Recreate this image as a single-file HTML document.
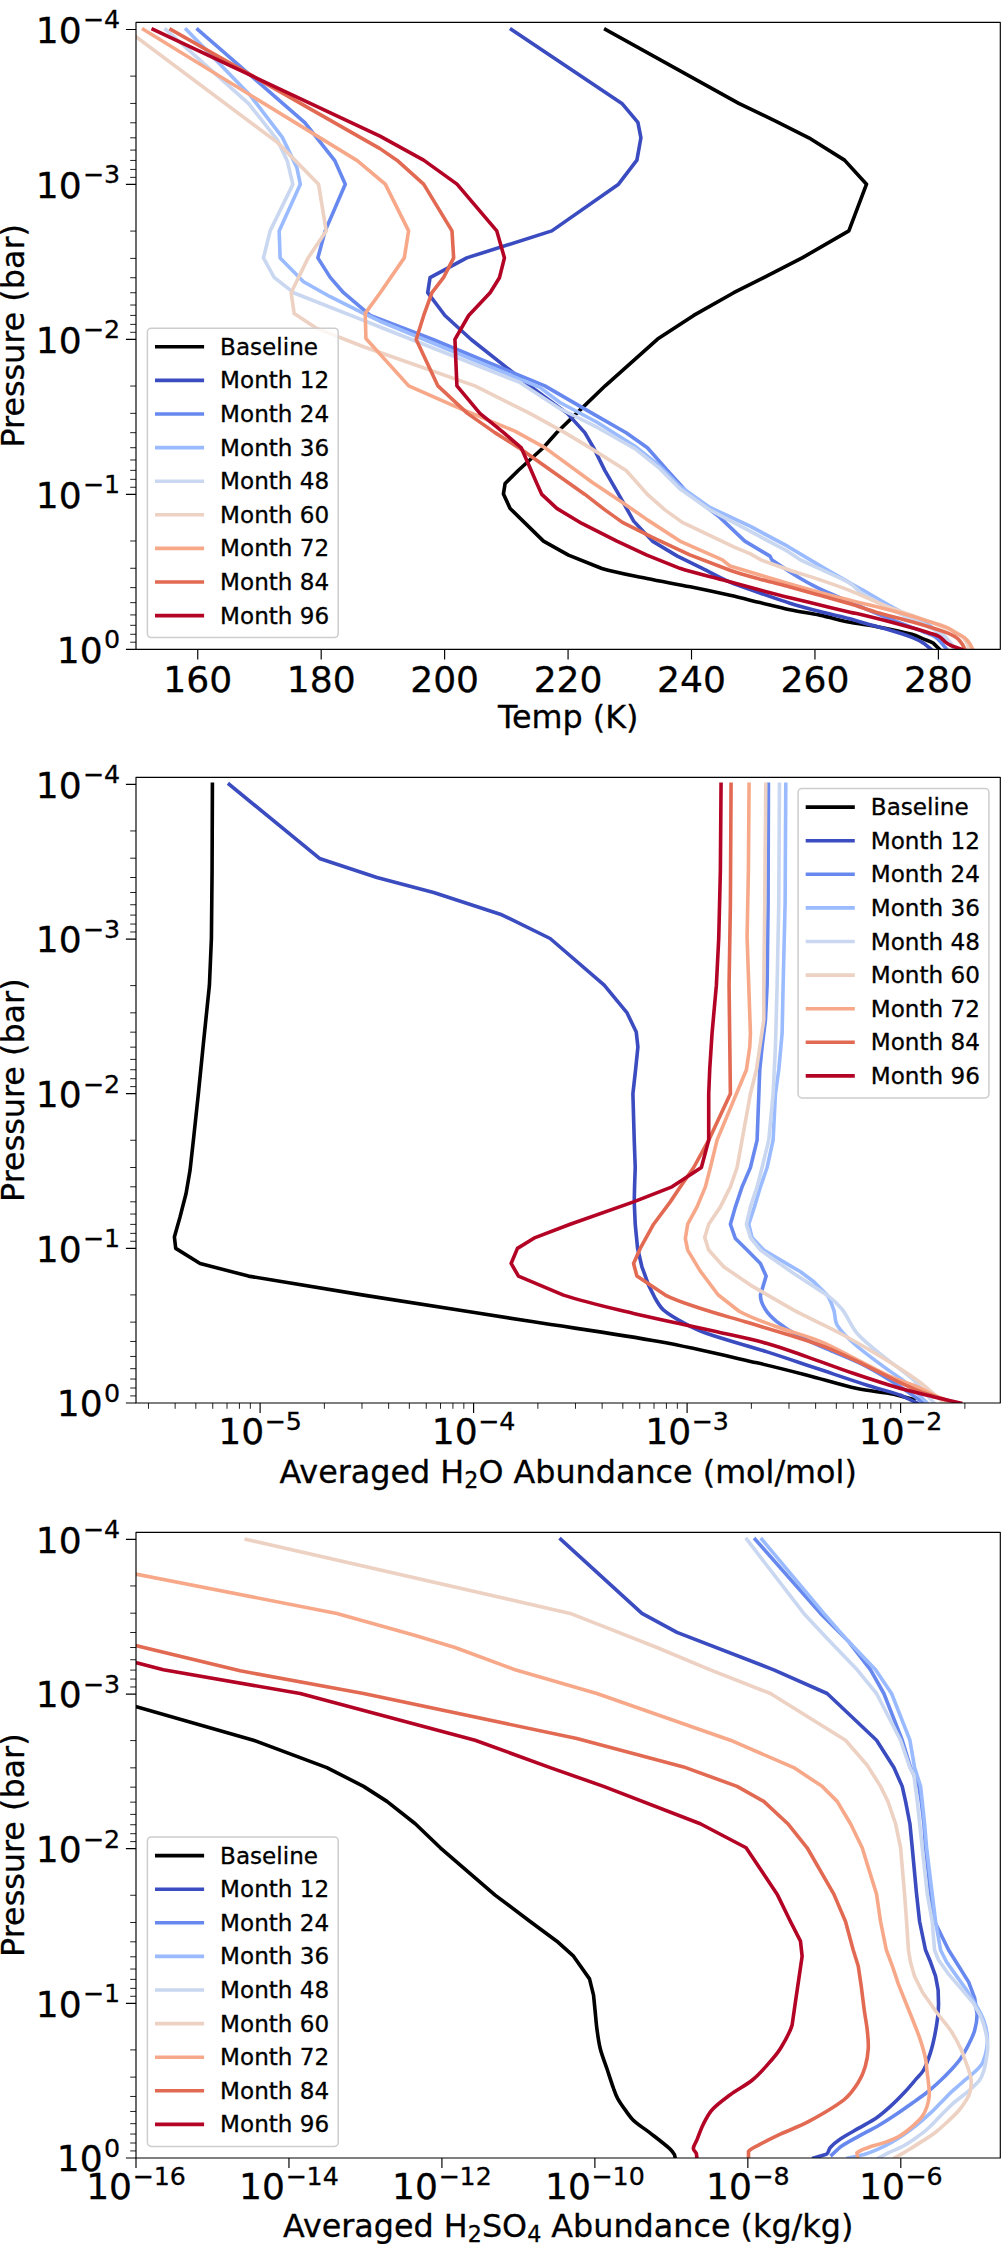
<!DOCTYPE html>
<html><head><meta charset="utf-8"><title>Profiles</title>
<style>html,body{margin:0;padding:0;background:#fff}svg{display:block}text{stroke:#000;stroke-width:.3px}</style></head>
<body>
<svg width="1001" height="2244" viewBox="0 0 1001 2244" font-family="'DejaVu Sans', 'Liberation Sans', sans-serif" fill="#000" stroke-linejoin="round">
<rect width="1001" height="2244" fill="#fff"/>
<clipPath id="c0"><rect x="136" y="22.41" width="864.3" height="626.89"/></clipPath>
<g clip-path="url(#c0)" fill="none" stroke-width="3.61" stroke-linejoin="round" stroke-linecap="square">
<path d="M605.69 29.5L738.74 103.42L777.11 121.77L808.81 137.78L844.51 160.14L866.53 184.16L848.85 230.88L802.13 257.9L763.76 277.69L733.73 292.71L693.69 315.4L657.59 339.09L605.2 385.8L576.84 413.16L556.82 432.52L543.48 447.53L518.45 470.22L505.1 483.57L503.44 493.91L510.11 508.42L543.48 541.12L568.5 555.13L601.87 568.48C616.61 572.87 631.85 575.37 646.91 578.49C661.33 581.48 675.86 583.9 690.29 586.83C703.56 589.53 716.79 592.38 730 595.36C740.02 597.63 749.98 600.16 759.97 602.56C769.96 604.96 779.89 607.64 789.94 609.75C799.87 611.84 809.98 613.06 819.91 615.14C830 617.26 839.9 620.28 850 622.34C858.59 624.09 867.36 624.91 875.96 626.58C888.01 628.92 900.06 631.26 911.93 634.37C916.09 635.46 919.94 637.51 923.92 639.17C927.14 640.51 930.58 641.46 933.51 643.36L939.5 649.3" stroke="#000000"/>
<path d="M511.45 29.5L621.89 103.42L637.9 122.44L640.91 137.78L636.9 160.14L618.55 184.16L551.82 230.88L466.73 257.9L430.03 277.69L427.69 292.71L444.94 315.48L471.16 339.46L529.85 385.91L567.31 413.39L584.8 432.62L593.54 447.6L604.78 470.33L618.69 494.41L633.68 521.13L652.41 541.11L677.38 556.09L702.36 568.33C711.59 572.91 720.52 578.13 730 582.18C739.76 586.35 749.95 589.46 759.97 592.97C769.93 596.45 779.86 600.03 789.94 603.16C799.85 606.23 809.87 608.94 819.91 611.55C829.89 614.14 840.02 616.15 850 618.74C854.71 619.96 859.29 621.65 863.98 622.98C871.95 625.26 880.01 627.19 887.95 629.58C896 631.99 904.08 634.36 911.93 637.37C916.1 638.97 920.12 641 923.92 643.36L931.11 649.3" stroke="#3b4cc0"/>
<path d="M197.83 29.5L304.83 122.65L334.8 160.61L345.28 184.34L325.19 230.88L317.85 257.9L330.2 277.36L343.55 292.71L370.24 315.4L432.95 339.46L544.84 385.91L592.29 413.39L626.18 432.72L647.41 447.7L667.39 470.43L687.37 492.41L719.84 517.38L744.82 541.11L769.98 556.17L771.96 560L789.94 571.99C795.85 575.73 801.82 579.36 807.92 582.78C811.82 584.96 815.87 586.85 819.91 588.77C823.87 590.65 827.88 592.43 831.9 594.17C850.56 602.23 869.15 610.46 887.95 618.19C899.83 623.07 912 627.2 923.92 631.97C927.98 633.6 932.2 635.02 935.9 637.37C938.29 638.88 940 641.27 941.9 643.36L946.69 649.3" stroke="#6788ee"/>
<path d="M186.3 29.5L249.88 94.93L282.35 137.38L296.83 167.35L300.33 184.34L279.15 230.88L280.15 257.9L303.51 281.7L330.2 296.71L363.57 313.4L380 321.23L539.84 387.41L560 402.5L597.46 422.48L634.93 446.2L659.9 466.18L679.88 486.16L709.85 507.39L750 526.2L787.46 546.18L824.93 568.66C837.32 575.89 849.9 582.81 862.39 589.89C874.88 596.97 887.12 604.5 899.85 611.12C907.95 615.33 916.87 617.88 924.83 622.36C929.96 625.25 934.32 629.36 938.88 633.1C941.83 635.53 944.56 638.22 947.33 640.85C949.26 642.68 951.27 644.44 952.97 646.48L954.38 649.3" stroke="#9abbff"/>
<path d="M165.86 29.5L248.63 103.67L277.35 139.88L287.34 161.11L292.84 184.34L270.14 230.88L263.47 257.9L274.14 277.36L293.5 292.71L363.57 320.4L380 326.97L519.86 382.42L560 408.74L597.46 427.47L634.93 448.7L659.9 468.68L679.88 488.66L709.85 509.89L750 531.2L787.46 551.18L800.73 560L819.91 568.99C829.95 573.76 840.38 577.8 850 583.38C854.64 586.07 857.8 590.86 862.39 593.64C874.49 600.98 887.19 607.29 899.85 613.62C908.02 617.7 916.66 620.77 924.83 624.86C931.66 628.27 938.79 631.38 944.81 636.09L956.04 649.3" stroke="#c9d7f0"/>
<path d="M126.2 29.5L277.35 142.38L318.56 184.34L326.2 230.88L307.84 258.34L291.16 292.71L294.16 313.4L316.85 328.41L363.57 346.76L380 352.45L474.91 385.91L529.85 413.39L564.82 432.62L589.79 447.6L626.18 470.43L647.41 494.41L664.9 509.89L682.38 522.38L734.83 547.35L750 553.68L761.17 560L789.94 570.19C799.88 573.54 809.98 576.41 819.91 579.78C830 583.2 840.1 586.62 850 590.57C862.87 595.71 875.29 601.93 888.17 607.04C897.42 610.71 906.99 613.52 916.34 616.9C923.89 619.63 931.43 622.37 938.88 625.35C945.52 628.01 952.41 630.22 958.6 633.81C961.47 635.47 963.61 638.23 965.64 640.85C966.93 642.51 967.74 644.51 968.46 646.48L968.74 649.3" stroke="#edd1c2"/>
<path d="M143.51 29.5L357.27 160.61L385.25 184.16L408.61 230.88L404.27 257.9L380.25 292.71L365.23 313.4L365.9 338.42L408.72 385.91L457.42 407.39L514.87 431.12L544.84 447.6L592.47 482.42L622.44 502.4L647.41 519.88L679.88 541.11L722.34 559.84L730 565.99L759.97 574.99C769.96 577.98 779.92 581.07 789.94 583.98C799.9 586.87 809.89 589.67 819.91 592.37C829.91 595.06 839.96 597.6 850 600.16C866.64 604.41 883.37 608.31 899.94 612.79C910.01 615.52 919.95 618.67 929.91 621.78C935.94 623.67 942.1 625.24 947.89 627.78C950.8 629.05 953.04 631.5 955.78 633.1C958.5 634.69 961.72 635.44 964.24 637.33C966.5 639.02 968.24 641.36 969.87 643.67L972.69 649.3" stroke="#f7a889"/>
<path d="M171.02 29.5L380 148.62L396.93 160.14L423.63 184.16L451.99 230.88L453.66 257.9L443.65 277.36L431.97 292.71L423.71 315.48L416.21 339.46L437.94 385.91L467.41 413.39L494.89 432.62L518.61 447.6L584.98 494.41L604.96 509.89L622.44 522.38L652.41 537.36L689.87 554.85L730 570.19C739.85 573.61 749.93 576.37 759.97 579.18C769.91 581.96 779.97 584.28 789.94 586.97C799.96 589.68 809.92 592.57 819.91 595.36C829.94 598.17 840.03 600.76 850 603.76C858.72 606.37 867.23 609.65 875.96 612.19C887.88 615.66 899.98 618.44 911.93 621.78C919.96 624.03 927.95 626.46 935.9 628.98C939.94 630.25 943.97 631.58 947.89 633.17C950.38 634.18 952.77 635.41 955.08 636.77C956.36 637.51 957.6 638.36 958.6 639.44C960.2 641.16 961.56 643.1 962.83 645.07L964.94 649.3" stroke="#e26952"/>
<path d="M153.13 29.5L380 136.13L423.63 160.14L456.99 184.16L496.76 230.88L504.44 257.9L499.43 277.69L490.09 292.71L468.66 315.48L454.93 339.46L456.92 385.91L479.9 413.39L503.63 432.62L521.11 447.6L531.1 470.33L536.8 483.4L541.81 494.41L556.82 508.42L581.85 523.44L616.88 541.12L646.91 555.13L679.88 568.33C693.81 572.89 708.18 576 722.34 579.82C734.88 583.21 747.41 586.64 759.97 589.97C769.95 592.62 779.93 595.26 789.94 597.76C799.91 600.25 809.92 602.56 819.91 604.96C829.94 607.36 839.95 609.81 850 612.15C854.64 613.23 859.34 614.09 863.98 615.19C871.99 617.1 879.98 619.09 887.95 621.18C895.97 623.29 903.96 625.5 911.93 627.78C917.95 629.5 923.96 631.23 929.91 633.17C933.16 634.23 936.54 635.06 939.5 636.77C941.83 638.11 943.34 640.55 945.49 642.16C947.36 643.56 949.36 644.82 951.49 645.76L961.6 649.3" stroke="#b40426"/>
</g>
<text x="120" y="42.7" text-anchor="end" font-size="36.1">10<tspan dx="1.1" dy="-14.4" font-size="25.3">−4</tspan></text>
<text x="120" y="197.65" text-anchor="end" font-size="36.1">10<tspan dx="1.1" dy="-14.4" font-size="25.3">−3</tspan></text>
<text x="120" y="352.6" text-anchor="end" font-size="36.1">10<tspan dx="1.1" dy="-14.4" font-size="25.3">−2</tspan></text>
<text x="120" y="507.55" text-anchor="end" font-size="36.1">10<tspan dx="1.1" dy="-14.4" font-size="25.3">−1</tspan></text>
<text x="120" y="662.5" text-anchor="end" font-size="36.1">10<tspan dx="1.1" dy="-14.4" font-size="25.3">0</tspan></text>
<text x="197.75" y="691.6" text-anchor="middle" font-size="36.1">160</text>
<text x="321.19" y="691.6" text-anchor="middle" font-size="36.1">180</text>
<text x="444.63" y="691.6" text-anchor="middle" font-size="36.1">200</text>
<text x="568.07" y="691.6" text-anchor="middle" font-size="36.1">220</text>
<text x="691.51" y="691.6" text-anchor="middle" font-size="36.1">240</text>
<text x="814.95" y="691.6" text-anchor="middle" font-size="36.1">260</text>
<text x="938.39" y="691.6" text-anchor="middle" font-size="36.1">280</text>
<path d="M125.9 29.5H136M125.9 184.45H136M125.9 339.4H136M125.9 494.35H136M125.9 649.3H136M197.75 649.3V659.4M321.19 649.3V659.4M444.63 649.3V659.4M568.07 649.3V659.4M691.51 649.3V659.4M814.95 649.3V659.4M938.39 649.3V659.4" stroke="#000" stroke-width="1.16" fill="none"/>
<path d="M130.2 76.14H136M130.2 103.43H136M130.2 122.79H136M130.2 137.81H136M130.2 150.07H136M130.2 160.45H136M130.2 169.43H136M130.2 177.36H136M130.2 231.09H136M130.2 258.38H136M130.2 277.74H136M130.2 292.76H136M130.2 305.02H136M130.2 315.4H136M130.2 324.38H136M130.2 332.31H136M130.2 386.04H136M130.2 413.33H136M130.2 432.69H136M130.2 447.71H136M130.2 459.97H136M130.2 470.35H136M130.2 479.33H136M130.2 487.26H136M130.2 540.99H136M130.2 568.28H136M130.2 587.64H136M130.2 602.66H136M130.2 614.92H136M130.2 625.3H136M130.2 634.28H136M130.2 642.21H136" stroke="#000" stroke-width="0.87" fill="none"/>
<rect x="136" y="22.41" width="864.3" height="626.89" fill="none" stroke="#000" stroke-width="1.16"/>
<text transform="translate(24 335.85) rotate(-90)" text-anchor="middle" font-size="31.8">Pressure (bar)</text>
<text x="568.15" y="728.4" text-anchor="middle" font-size="31.8">Temp (K)</text>
<rect x="147.4" y="328.2" width="190.8" height="309.4" rx="3.8" fill="#fff" fill-opacity="0.8" stroke="#cdcdcd" stroke-width="1.5"/>
<path d="M155 346.8H204.1" stroke="#000000" stroke-width="3.61"/>
<text x="220.1" y="354.8" font-size="23.1">Baseline</text>
<path d="M155 380.4H204.1" stroke="#3b4cc0" stroke-width="3.61"/>
<text x="220.1" y="388.4" font-size="23.1">Month 12</text>
<path d="M155 414H204.1" stroke="#6788ee" stroke-width="3.61"/>
<text x="220.1" y="422" font-size="23.1">Month 24</text>
<path d="M155 447.6H204.1" stroke="#9abbff" stroke-width="3.61"/>
<text x="220.1" y="455.6" font-size="23.1">Month 36</text>
<path d="M155 481.2H204.1" stroke="#c9d7f0" stroke-width="3.61"/>
<text x="220.1" y="489.2" font-size="23.1">Month 48</text>
<path d="M155 514.8H204.1" stroke="#edd1c2" stroke-width="3.61"/>
<text x="220.1" y="522.8" font-size="23.1">Month 60</text>
<path d="M155 548.4H204.1" stroke="#f7a889" stroke-width="3.61"/>
<text x="220.1" y="556.4" font-size="23.1">Month 72</text>
<path d="M155 582H204.1" stroke="#e26952" stroke-width="3.61"/>
<text x="220.1" y="590" font-size="23.1">Month 84</text>
<path d="M155 615.6H204.1" stroke="#b40426" stroke-width="3.61"/>
<text x="220.1" y="623.6" font-size="23.1">Month 96</text>
<clipPath id="c1"><rect x="136" y="777.32" width="864.3" height="625.68"/></clipPath>
<g clip-path="url(#c1)" fill="none" stroke-width="3.61" stroke-linejoin="round" stroke-linecap="square">
<path d="M212.41 784.4L212.08 870.1L211.41 938.5L209.41 985.21L203.41 1043.38L198.4 1093.43L193.4 1140.14L190.06 1170.17L186.06 1193.53L180.05 1216.88L174.38 1236.9L175.71 1248.41L200.07 1263.43L248.45 1276.11L363.57 1295.12C420.17 1304.2 476.84 1312.9 533.47 1321.82C575.73 1328.47 618.17 1334.11 660.26 1341.84C692.75 1347.8 724.88 1355.54 757.09 1362.86C773.85 1366.67 790.5 1370.93 807.14 1375.2C823.86 1379.5 840.32 1384.85 857.19 1388.55C869.28 1391.2 881.74 1391.86 893.89 1394.22L913.91 1399.56" stroke="#000000"/>
<path d="M229.32 784.4L319.52 858.42L376.91 877.44L433.64 892.46L501.77 914.81L550.15 938.5L604.2 985.21L626.89 1012.58L636.24 1032.03L637.9 1047.05L635.57 1069.74L632.9 1093.76L634.23 1140.14L635.23 1167.5L634.57 1186.85L634.23 1201.87L635.23 1224.22L637.57 1248.25L641.91 1266.76L648.58 1285.11L655.25 1298.46C657.72 1302.56 659.97 1307.02 663.6 1310.14C669.59 1315.29 676.66 1319.07 683.62 1322.82C691.15 1326.88 698.89 1330.68 706.97 1333.5C726.77 1340.38 747.13 1345.5 767.1 1351.85C783.86 1357.18 800.47 1362.97 817.15 1368.53C833.83 1374.09 850.45 1379.86 867.2 1385.21C878.26 1388.75 889.62 1391.34 900.57 1395.22L917.25 1403" stroke="#3b4cc0"/>
<path d="M768.43 784.4L768.1 903.47L767.1 985.21L765.43 1020.02L762.09 1047.05L759.76 1069.74L757.09 1140.14L750.42 1167.5L742.07 1186.85L735.4 1206.87L730.4 1224.22L735.4 1238.57L747.08 1250.08L760.43 1263.43L766.1 1276.11L760.43 1295.12C760.33 1300.19 762.75 1305.18 765.43 1309.47C768.43 1314.28 772.65 1318.33 777.11 1321.82C784.4 1327.51 792.29 1332.5 800.47 1336.83C811.25 1342.54 822.71 1346.84 833.83 1351.85C844.96 1356.85 856.4 1361.19 867.2 1366.86C878.68 1372.89 889.63 1379.91 900.57 1386.88L923.92 1403" stroke="#6788ee"/>
<path d="M785.78 784.4L785.12 903.47L783.12 985.21L782.11 1033.37L778.78 1069.74L775.44 1093.76L773.11 1140.14L767.1 1167.5L760.43 1186.85L754.42 1206.87L748.75 1224.22L752.08 1237.57L763.76 1250.08L800.47 1271.77L813.81 1281.78L827.16 1295.12C830.32 1299.6 832.1 1304.94 833.83 1310.14C835.45 1315 834.53 1320.76 837.17 1325.15C841.42 1332.24 847.69 1338 853.85 1343.51C863.31 1351.95 873.74 1359.25 883.88 1366.86C891.54 1372.6 899.89 1377.42 907.24 1383.55L927.26 1403" stroke="#9abbff"/>
<path d="M779.44 784.4L778.78 903.47L777.11 985.21L775.44 1047.05L773.11 1093.76L768.77 1140.14L762.09 1167.5L757.09 1186.85L750.42 1206.87L746.41 1224.22L750.42 1237.57L760.43 1250.08L793.79 1273.44L827.16 1295.12C832.71 1299.26 837.91 1304.02 842.17 1309.47C847.99 1316.91 850.95 1326.41 857.19 1333.5C865 1342.37 874.76 1349.34 883.88 1356.85C893.67 1364.91 904.59 1371.61 913.91 1380.21L933.93 1403" stroke="#c9d7f0"/>
<path d="M765.76 784.4L764.76 903.47L763.76 985.21L763.76 1020.02L756.42 1069.74L750.42 1093.76L742.07 1140.14L737.07 1167.5L730.4 1186.85L720.39 1206.87L708.71 1224.22L704.7 1237.57L708.71 1250.08L723.72 1266.76L750.42 1285.11L793.79 1310.14C809.13 1318.38 825.17 1325.26 840.51 1333.5C855.21 1341.39 869.62 1349.84 883.88 1358.52C895.21 1365.42 906.48 1372.47 917.25 1380.21C924.3 1385.28 930.66 1391.25 937.27 1396.89L943.94 1403" stroke="#edd1c2"/>
<path d="M749.07 784.4L748.41 870.1L747.08 936.83L750.42 1033.37L749.75 1047.05L746.41 1069.74L717.05 1140.14L710.38 1167.5L705.37 1186.85L697.03 1206.87L687.69 1224.22L685.35 1238.57L687.69 1250.08L700 1270.66L718.04 1294.72L739.09 1311.26C750.5 1317.56 762.96 1321.77 775.17 1326.29C790.04 1331.8 805.6 1335.35 820.28 1341.33C832.73 1346.4 844.34 1353.36 856.36 1359.37C868.39 1365.38 880.18 1371.89 892.45 1377.41C900.26 1380.93 908.65 1383.03 916.5 1386.43C923.7 1389.55 930.42 1393.69 937.55 1396.96L952.59 1403" stroke="#f7a889"/>
<path d="M731.06 784.4L730.4 903.47L729.06 985.21L730.4 1093.76L708.71 1140.14L693.69 1167.5L680.35 1186.85L670.27 1201.87L653.59 1224.22L640.24 1248.41L633.57 1263.43L636.9 1276.11L665.26 1295.12C676.29 1300.74 688.26 1304.33 700 1308.25C714.89 1313.22 730.07 1317.27 745.1 1321.78C760.14 1326.29 775.24 1330.6 790.21 1335.31C802.3 1339.12 814.51 1342.68 826.29 1347.34C838.6 1352.21 850.44 1358.17 862.38 1363.88C873.5 1369.2 884.32 1375.13 895.45 1380.42C904.37 1384.66 913.3 1388.92 922.52 1392.45L946.57 1399.97" stroke="#e26952"/>
<path d="M721.05 784.4L720.39 870.1L718.72 938.5L716.38 985.21L712.04 1033.37L709.71 1069.74L708.71 1093.76L708.71 1140.14L701.37 1167.5L672 1186.85L633.57 1201.87L570.17 1224.22L535.13 1237.57L517.45 1248.41L511.11 1263.43L518.45 1276.11L563.5 1295.12C586.46 1302.58 610.11 1307.77 633.57 1313.48C651.27 1317.78 669.16 1321.24 686.95 1325.15C696.99 1327.36 707.03 1329.53 717.05 1331.83C733.75 1335.65 750.59 1338.92 767.1 1343.51C780.66 1347.27 793.85 1352.25 807.14 1356.85C822.76 1362.26 838.2 1368.22 853.85 1373.54C869.34 1378.79 884.86 1383.97 900.57 1388.55C911.57 1391.76 922.79 1394.21 933.93 1396.89L960.63 1403" stroke="#b40426"/>
</g>
<text x="120" y="797.6" text-anchor="end" font-size="36.1">10<tspan dx="1.1" dy="-14.4" font-size="25.3">−4</tspan></text>
<text x="120" y="952.25" text-anchor="end" font-size="36.1">10<tspan dx="1.1" dy="-14.4" font-size="25.3">−3</tspan></text>
<text x="120" y="1106.9" text-anchor="end" font-size="36.1">10<tspan dx="1.1" dy="-14.4" font-size="25.3">−2</tspan></text>
<text x="120" y="1261.55" text-anchor="end" font-size="36.1">10<tspan dx="1.1" dy="-14.4" font-size="25.3">−1</tspan></text>
<text x="120" y="1416.2" text-anchor="end" font-size="36.1">10<tspan dx="1.1" dy="-14.4" font-size="25.3">0</tspan></text>
<text x="260.1" y="1444.4" text-anchor="middle" font-size="36.1">10<tspan dx="0.4" dy="-14.4" font-size="25.3">−5</tspan></text>
<text x="473.6" y="1444.4" text-anchor="middle" font-size="36.1">10<tspan dx="0.4" dy="-14.4" font-size="25.3">−4</tspan></text>
<text x="687.1" y="1444.4" text-anchor="middle" font-size="36.1">10<tspan dx="0.4" dy="-14.4" font-size="25.3">−3</tspan></text>
<text x="900.6" y="1444.4" text-anchor="middle" font-size="36.1">10<tspan dx="0.4" dy="-14.4" font-size="25.3">−2</tspan></text>
<path d="M125.9 784.4H136M125.9 939.05H136M125.9 1093.7H136M125.9 1248.35H136M125.9 1403H136M260.1 1403V1413.1M473.6 1403V1413.1M687.1 1403V1413.1M900.6 1403V1413.1" stroke="#000" stroke-width="1.16" fill="none"/>
<path d="M130.2 830.95H136M130.2 858.19H136M130.2 877.51H136M130.2 892.5H136M130.2 904.74H136M130.2 915.09H136M130.2 924.06H136M130.2 931.97H136M130.2 985.6H136M130.2 1012.84H136M130.2 1032.16H136M130.2 1047.15H136M130.2 1059.39H136M130.2 1069.74H136M130.2 1078.71H136M130.2 1086.62H136M130.2 1140.25H136M130.2 1167.49H136M130.2 1186.81H136M130.2 1201.8H136M130.2 1214.04H136M130.2 1224.39H136M130.2 1233.36H136M130.2 1241.27H136M130.2 1294.9H136M130.2 1322.14H136M130.2 1341.46H136M130.2 1356.45H136M130.2 1368.69H136M130.2 1379.04H136M130.2 1388.01H136M130.2 1395.92H136M148.47 1403V1408.8M175.14 1403V1408.8M195.83 1403V1408.8M212.74 1403V1408.8M227.03 1403V1408.8M239.41 1403V1408.8M250.33 1403V1408.8M324.37 1403V1408.8M361.97 1403V1408.8M388.64 1403V1408.8M409.33 1403V1408.8M426.24 1403V1408.8M440.53 1403V1408.8M452.91 1403V1408.8M463.83 1403V1408.8M537.87 1403V1408.8M575.47 1403V1408.8M602.14 1403V1408.8M622.83 1403V1408.8M639.74 1403V1408.8M654.03 1403V1408.8M666.41 1403V1408.8M677.33 1403V1408.8M751.37 1403V1408.8M788.97 1403V1408.8M815.64 1403V1408.8M836.33 1403V1408.8M853.24 1403V1408.8M867.53 1403V1408.8M879.91 1403V1408.8M890.83 1403V1408.8M964.87 1403V1408.8" stroke="#000" stroke-width="0.87" fill="none"/>
<rect x="136" y="777.32" width="864.3" height="625.68" fill="none" stroke="#000" stroke-width="1.16"/>
<text transform="translate(24 1090.16) rotate(-90)" text-anchor="middle" font-size="31.8">Pressure (bar)</text>
<text x="568.15" y="1482.7" text-anchor="middle" font-size="31.8">Averaged H<tspan dy="5" font-size="22.2">2</tspan><tspan dy="-5">O Abundance (mol/mol)</tspan></text>
<rect x="798.1" y="788.5" width="190.8" height="309.4" rx="3.8" fill="#fff" fill-opacity="0.8" stroke="#cdcdcd" stroke-width="1.5"/>
<path d="M805.7 807.1H854.8" stroke="#000000" stroke-width="3.61"/>
<text x="870.8" y="815.1" font-size="23.1">Baseline</text>
<path d="M805.7 840.7H854.8" stroke="#3b4cc0" stroke-width="3.61"/>
<text x="870.8" y="848.7" font-size="23.1">Month 12</text>
<path d="M805.7 874.3H854.8" stroke="#6788ee" stroke-width="3.61"/>
<text x="870.8" y="882.3" font-size="23.1">Month 24</text>
<path d="M805.7 907.9H854.8" stroke="#9abbff" stroke-width="3.61"/>
<text x="870.8" y="915.9" font-size="23.1">Month 36</text>
<path d="M805.7 941.5H854.8" stroke="#c9d7f0" stroke-width="3.61"/>
<text x="870.8" y="949.5" font-size="23.1">Month 48</text>
<path d="M805.7 975.1H854.8" stroke="#edd1c2" stroke-width="3.61"/>
<text x="870.8" y="983.1" font-size="23.1">Month 60</text>
<path d="M805.7 1008.7H854.8" stroke="#f7a889" stroke-width="3.61"/>
<text x="870.8" y="1016.7" font-size="23.1">Month 72</text>
<path d="M805.7 1042.3H854.8" stroke="#e26952" stroke-width="3.61"/>
<text x="870.8" y="1050.3" font-size="23.1">Month 84</text>
<path d="M805.7 1075.9H854.8" stroke="#b40426" stroke-width="3.61"/>
<text x="870.8" y="1083.9" font-size="23.1">Month 96</text>
<clipPath id="c2"><rect x="136" y="1532.32" width="864.3" height="625.68"/></clipPath>
<g clip-path="url(#c2)" fill="none" stroke-width="3.61" stroke-linejoin="round" stroke-linecap="square">
<path d="M119.99 1702.08L253.46 1740.21L326.86 1767.58L363.57 1786.36L386.92 1801.38L415.28 1823.74L440.31 1847.76L495.09 1895.14L530.13 1921.5L556.82 1941.19L573.51 1956.2L589.52 1978.89L593.53 1995.07L595.19 2011.75C595.75 2017.31 596.11 2022.9 596.86 2028.44C597.78 2035.14 598.56 2041.89 600.2 2048.46C601.91 2055.28 604.65 2061.8 606.87 2068.48C609.1 2075.15 611.17 2081.88 613.55 2088.5C614.78 2091.94 615.95 2095.45 617.71 2098.66C620.02 2102.87 622.88 2106.76 625.7 2110.64C628.21 2114.09 630.55 2117.75 633.7 2120.63C638.61 2125.13 644.42 2128.53 649.68 2132.62C656.41 2137.86 663.28 2142.95 669.66 2148.61C671.57 2150.3 673.15 2152.4 674.46 2154.6L675.25 2158" stroke="#000000"/>
<path d="M560.82 1539.4L641.91 1613.42L676.94 1632.44L773.77 1669.81L827.16 1693.5L876.54 1740.21L893.89 1767.58L902.23 1786.36L905.57 1801.38L909.91 1823.74L912.24 1847.76L916.58 1894.14L919.59 1921.5L925.5 1950L930.52 1962.05L935.54 1976.1L938.15 1990.16L938.55 2004.22C938.45 2008.91 938.13 2013.61 937.55 2018.27C936.79 2024.33 935.77 2030.36 934.54 2036.34C933.42 2041.75 932.22 2047.16 930.52 2052.41C928.58 2058.4 926.66 2064.48 923.64 2070C921.62 2073.67 918.32 2076.47 915.59 2079.65C911.89 2083.98 908.23 2088.36 904.34 2092.52C900.19 2096.94 895.95 2101.3 891.47 2105.38C886.83 2109.62 882.14 2113.85 876.99 2117.45C871.38 2121.38 865.21 2124.43 859.3 2127.9C852.88 2131.67 846.18 2135 840 2139.16C836.48 2141.53 833.14 2144.27 830.31 2147.43C828.55 2149.4 828.64 2152.9 826.41 2154.33L813.83 2158" stroke="#3b4cc0"/>
<path d="M755.29 1539.4L820.49 1613.42L848.85 1641.78L870.54 1669.81L883.88 1693.5L902.23 1740.21L910.58 1767.58L918.92 1786.36L921.25 1801.38L923.92 1823.74L925.59 1847.76L930.6 1894.14L934.6 1921.5L948.59 1950L958.63 1966.06L968.67 1982.13L974.7 1998.19L977.1 2014.26C977.1 2019.67 976.16 2025.11 974.7 2030.32C973.32 2035.23 970.95 2039.82 968.67 2044.38C966.26 2049.2 963.71 2053.99 960.64 2058.43C957.78 2062.57 954.37 2066.3 950.98 2070C947.39 2073.91 943.6 2077.64 939.72 2081.26C935.55 2085.15 931.32 2088.97 926.85 2092.52C922.19 2096.22 917.23 2099.52 912.38 2102.97C907.04 2106.76 901.74 2110.6 896.29 2114.23C890.48 2118.11 884.63 2121.95 878.6 2125.49C872.29 2129.19 865.68 2132.36 859.3 2135.94C852.81 2139.6 846.13 2142.97 840 2147.2L831.81 2154.93" stroke="#6788ee"/>
<path d="M761.92 1539.4L823.82 1613.42L847.18 1640.11L875.54 1669.81L891.56 1693.5L909.91 1740.21L914.58 1767.58L920.59 1786.36L922.25 1801.38L924.59 1823.74L926.59 1847.76L932.26 1894.14L935.6 1921.5L940.56 1950L946.58 1962.05L956.62 1976.1L966.66 1990.16L976.7 2006.22C979.29 2010.78 981.91 2015.37 983.73 2020.28C985.41 2024.8 986.63 2029.54 987.14 2034.34C987.64 2039 987.47 2043.76 986.74 2048.39C985.99 2053.21 984.78 2058.03 982.73 2062.45C981.37 2065.37 978.99 2067.73 976.71 2070C973.21 2073.49 969.19 2076.41 965.45 2079.65C961.15 2083.38 956.75 2087.01 952.59 2090.91C948.16 2095.06 944.01 2099.49 939.72 2103.78C936.5 2106.99 933.4 2110.33 930.07 2113.43C925.89 2117.3 921.63 2121.09 917.2 2124.69C913.04 2128.07 908.75 2131.3 904.34 2134.34C900.17 2137.2 895.88 2139.91 891.47 2142.38C886.76 2145.01 881.93 2147.44 876.99 2149.62C872.8 2151.46 868.53 2153.17 864.13 2154.44L848.04 2158" stroke="#9abbff"/>
<path d="M746.83 1539.4L803.8 1613.42L827.16 1638.45L857.19 1669.81L876.54 1693.5L900.57 1740.21L909.91 1767.58L913.91 1775.02L917.25 1801.38L922.25 1847.76L927.26 1894.14L932.26 1921.5L934.54 1950L938.55 1960.04L948.59 1974.1L960.64 1988.15L972.69 2002.21L980.72 2016.26C982.95 2021.41 984.46 2026.86 985.74 2032.33C986.81 2036.94 987.75 2041.65 987.75 2046.38C987.75 2051.78 986.6 2057.12 985.74 2062.45C985.33 2065 984.78 2067.55 983.95 2070C982.84 2073.3 981.99 2076.84 979.93 2079.65C976.8 2083.94 972.65 2087.4 968.67 2090.91C963.52 2095.45 957.72 2099.21 952.59 2103.78C948.05 2107.81 944.01 2112.35 939.72 2116.64C935.43 2120.93 931.42 2125.52 926.85 2129.51C922.82 2133.04 918.4 2136.12 913.99 2139.16C909.82 2142.03 905.59 2144.83 901.12 2147.2C896.98 2149.4 892.47 2150.81 888.25 2152.83L878.6 2158" stroke="#c9d7f0"/>
<path d="M246.28 1539.4L570.17 1613.42L618.55 1632.44L656.92 1647.46L710.31 1669.81L770.44 1693.5L845.51 1740.21L867.2 1765.24L880.55 1786.36L887.89 1801.38L895.56 1823.74L900.57 1847.76L904.57 1894.14L906.57 1921.5L908.43 1950L910.44 1962.05L914.46 1976.1L922.49 1992.17L936.54 2012.25C941.07 2018.39 946.37 2023.97 950.6 2030.32C954.42 2036.05 957.71 2042.16 960.64 2048.39C963.07 2053.57 964.67 2059.1 966.66 2064.46C967.35 2066.3 968.12 2068.11 968.67 2070C969.6 2073.18 970.83 2076.34 971.08 2079.65C971.37 2083.4 971.05 2087.23 970.28 2090.91C969.69 2093.74 968.52 2096.46 967.06 2098.95C964.74 2102.93 962.02 2106.71 959.02 2110.21C955.57 2114.24 951.64 2117.85 947.76 2121.47C943.6 2125.36 939.42 2129.27 934.9 2132.73C930.29 2136.25 925.29 2139.23 920.42 2142.38C916.17 2145.13 911.88 2147.79 907.55 2150.42L894.69 2158" stroke="#edd1c2"/>
<path d="M119.99 1571.05L336.87 1613.42L413.62 1635.11L455.05 1647.46L515.11 1669.81L596.86 1693.5L730.4 1740.21L793.79 1767.58L822.15 1786.36L837.17 1801.38L850.52 1823.74L862.19 1847.76L876.54 1894.14L880.55 1921.5L886.34 1950L892.37 1966.06L898.39 1984.14L906.42 2004.22C909.1 2010.91 911.84 2017.58 914.46 2024.3C916.53 2029.63 918.72 2034.92 920.48 2040.36C922.4 2046.31 924.19 2052.32 925.5 2058.43C926.32 2062.23 926.39 2066.15 926.85 2070C927.37 2074.29 928.06 2078.56 928.46 2082.87C928.86 2087.15 929.55 2091.45 929.27 2095.73C929.01 2099.56 928.11 2103.37 926.85 2106.99C925.68 2110.39 924.19 2113.77 922.03 2116.64C919.3 2120.28 915.83 2123.33 912.38 2126.29C908.31 2129.78 904.13 2133.23 899.51 2135.94C894.96 2138.62 889.99 2140.55 885.03 2142.38C879.78 2144.31 874.2 2145.25 868.95 2147.2C864.79 2148.75 860.09 2149.76 856.89 2152.83L857.69 2158" stroke="#f7a889"/>
<path d="M119.99 1641.78L240.11 1670.81L363.57 1693.5L576.84 1738.55L683.62 1766.91L737.07 1786.36L763.76 1801.38L787.79 1823.74L807.14 1847.76L833.83 1894.14L845.51 1921.5L853.21 1950L858.23 1966.06L861.24 1986.14L864.26 2010.24C865.17 2016.95 866.56 2023.59 867.27 2030.32C867.9 2036.32 868.61 2042.37 868.27 2048.39C867.93 2054.49 866.98 2060.6 865.26 2066.46C863.61 2072.07 861.37 2077.6 858.23 2082.53C854.27 2088.75 849.98 2095.05 844.18 2099.6C832.97 2108.36 820.33 2115.18 807.83 2121.96C799.18 2126.65 789.77 2129.77 780.86 2133.95C773.78 2137.26 766.77 2140.74 759.88 2144.44C755.97 2146.54 751.34 2147.93 748.49 2151.33L748.49 2158" stroke="#e26952"/>
<path d="M119.99 1658.47L163.37 1669.81L300.17 1693.5L475.07 1740.21L550.15 1767.58L603.54 1786.36L700.3 1823.74L746.08 1847.76L777.11 1894.14L790.46 1921.5L800.47 1941.19L802.13 1956.2L798.8 1978.89L795.46 2001.74L792.12 2025.1C789.46 2033.39 785.06 2041.08 780.45 2048.46C776.67 2054.5 771.83 2059.82 767.1 2065.14C762.47 2070.35 757.82 2075.64 752.39 2080C745.36 2085.64 737.15 2089.63 729.91 2094.99C723.64 2099.63 717.15 2104.17 711.93 2109.97C708.03 2114.3 705.54 2119.74 702.94 2124.96C700.53 2129.77 698.98 2134.96 696.94 2139.94C695.79 2142.76 693.48 2145.29 693.35 2148.33C693.26 2150.3 695.66 2151.58 696.34 2153.43L696.94 2158" stroke="#b40426"/>
</g>
<text x="120" y="1552.6" text-anchor="end" font-size="36.1">10<tspan dx="1.1" dy="-14.4" font-size="25.3">−4</tspan></text>
<text x="120" y="1707.25" text-anchor="end" font-size="36.1">10<tspan dx="1.1" dy="-14.4" font-size="25.3">−3</tspan></text>
<text x="120" y="1861.9" text-anchor="end" font-size="36.1">10<tspan dx="1.1" dy="-14.4" font-size="25.3">−2</tspan></text>
<text x="120" y="2016.55" text-anchor="end" font-size="36.1">10<tspan dx="1.1" dy="-14.4" font-size="25.3">−1</tspan></text>
<text x="120" y="2171.2" text-anchor="end" font-size="36.1">10<tspan dx="1.1" dy="-14.4" font-size="25.3">0</tspan></text>
<text x="136" y="2199.4" text-anchor="middle" font-size="36.1">10<tspan dx="0.4" dy="-14.4" font-size="25.3">−16</tspan></text>
<text x="288.96" y="2199.4" text-anchor="middle" font-size="36.1">10<tspan dx="0.4" dy="-14.4" font-size="25.3">−14</tspan></text>
<text x="441.92" y="2199.4" text-anchor="middle" font-size="36.1">10<tspan dx="0.4" dy="-14.4" font-size="25.3">−12</tspan></text>
<text x="594.88" y="2199.4" text-anchor="middle" font-size="36.1">10<tspan dx="0.4" dy="-14.4" font-size="25.3">−10</tspan></text>
<text x="747.84" y="2199.4" text-anchor="middle" font-size="36.1">10<tspan dx="0.4" dy="-14.4" font-size="25.3">−8</tspan></text>
<text x="900.8" y="2199.4" text-anchor="middle" font-size="36.1">10<tspan dx="0.4" dy="-14.4" font-size="25.3">−6</tspan></text>
<path d="M125.9 1539.4H136M125.9 1694.05H136M125.9 1848.7H136M125.9 2003.35H136M125.9 2158H136M136 2158V2168.1M288.96 2158V2168.1M441.92 2158V2168.1M594.88 2158V2168.1M747.84 2158V2168.1M900.8 2158V2168.1" stroke="#000" stroke-width="1.16" fill="none"/>
<path d="M130.2 1585.95H136M130.2 1613.19H136M130.2 1632.51H136M130.2 1647.5H136M130.2 1659.74H136M130.2 1670.09H136M130.2 1679.06H136M130.2 1686.97H136M130.2 1740.6H136M130.2 1767.84H136M130.2 1787.16H136M130.2 1802.15H136M130.2 1814.39H136M130.2 1824.74H136M130.2 1833.71H136M130.2 1841.62H136M130.2 1895.25H136M130.2 1922.49H136M130.2 1941.81H136M130.2 1956.8H136M130.2 1969.04H136M130.2 1979.39H136M130.2 1988.36H136M130.2 1996.27H136M130.2 2049.9H136M130.2 2077.14H136M130.2 2096.46H136M130.2 2111.45H136M130.2 2123.69H136M130.2 2134.04H136M130.2 2143.01H136M130.2 2150.92H136" stroke="#000" stroke-width="0.87" fill="none"/>
<rect x="136" y="1532.32" width="864.3" height="625.68" fill="none" stroke="#000" stroke-width="1.16"/>
<text transform="translate(24 1845.16) rotate(-90)" text-anchor="middle" font-size="31.8">Pressure (bar)</text>
<text x="568.15" y="2237.4" text-anchor="middle" font-size="31.8">Averaged H<tspan dy="5" font-size="22.2">2</tspan><tspan dy="-5">SO</tspan><tspan dy="5" font-size="22.2">4</tspan><tspan dy="-5"> Abundance (kg/kg)</tspan></text>
<rect x="147.4" y="1837" width="190.8" height="309.4" rx="3.8" fill="#fff" fill-opacity="0.8" stroke="#cdcdcd" stroke-width="1.5"/>
<path d="M155 1855.6H204.1" stroke="#000000" stroke-width="3.61"/>
<text x="220.1" y="1863.6" font-size="23.1">Baseline</text>
<path d="M155 1889.2H204.1" stroke="#3b4cc0" stroke-width="3.61"/>
<text x="220.1" y="1897.2" font-size="23.1">Month 12</text>
<path d="M155 1922.8H204.1" stroke="#6788ee" stroke-width="3.61"/>
<text x="220.1" y="1930.8" font-size="23.1">Month 24</text>
<path d="M155 1956.4H204.1" stroke="#9abbff" stroke-width="3.61"/>
<text x="220.1" y="1964.4" font-size="23.1">Month 36</text>
<path d="M155 1990H204.1" stroke="#c9d7f0" stroke-width="3.61"/>
<text x="220.1" y="1998" font-size="23.1">Month 48</text>
<path d="M155 2023.6H204.1" stroke="#edd1c2" stroke-width="3.61"/>
<text x="220.1" y="2031.6" font-size="23.1">Month 60</text>
<path d="M155 2057.2H204.1" stroke="#f7a889" stroke-width="3.61"/>
<text x="220.1" y="2065.2" font-size="23.1">Month 72</text>
<path d="M155 2090.8H204.1" stroke="#e26952" stroke-width="3.61"/>
<text x="220.1" y="2098.8" font-size="23.1">Month 84</text>
<path d="M155 2124.4H204.1" stroke="#b40426" stroke-width="3.61"/>
<text x="220.1" y="2132.4" font-size="23.1">Month 96</text>
</svg>
</body></html>
